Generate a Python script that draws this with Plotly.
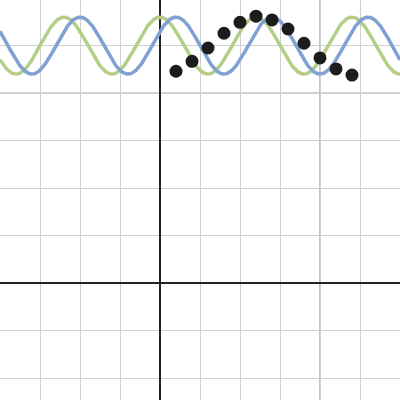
import numpy as np
import plotly.graph_objects as go

pts_x = [0.4, 0.8, 1.2, 1.6, 2.0, 2.4, 2.8, 3.2, 3.6, 4.0, 4.4, 4.8]
pts_y = [4.46, 4.67, 4.95, 5.26, 5.49, 5.62, 5.54, 5.35, 5.05, 4.74, 4.51, 4.38]

# curve parameters: center, amplitude, period, phase shift
center, amp, period = 5.0, 0.6, 2.4
green_shift, blue_shift = 0.0, 0.4

xs = np.linspace(-4, 6, 800)
green = center + amp * np.cos(2 * np.pi * (xs - green_shift) / period)
blue = center + amp * np.cos(2 * np.pi * (xs - blue_shift) / period)

fig = go.Figure()
fig.add_trace(go.Scatter(x=xs, y=green, mode="lines", line=dict(color="#b4cd88", width=3.5)))
fig.add_trace(go.Scatter(x=xs, y=blue, mode="lines", line=dict(color="#7fa2d2", width=3.5)))
fig.add_trace(go.Scatter(x=pts_x, y=pts_y, mode="markers", marker=dict(color="#1c1c1c", size=13)))

for v in [4]:
    fig.add_shape(type="line", x0=v, x1=v, y0=0, y1=1, yref="paper", line=dict(color="#8a8a8a", width=1), layer="below")
    fig.add_shape(type="line", y0=v, y1=v, x0=0, x1=1, xref="paper", line=dict(color="#8a8a8a", width=1), layer="below")

fig.update_layout(
    width=400, height=400, margin=dict(l=0, r=0, t=0, b=0),
    paper_bgcolor="white", plot_bgcolor="white", showlegend=False,
    xaxis=dict(range=[-4, 6], dtick=1, showticklabels=False, gridcolor="#d0d0d0",
               zeroline=True, zerolinecolor="#222", zerolinewidth=1.5, fixedrange=True),
    yaxis=dict(range=[-2.46, 5.96], dtick=1, showticklabels=False, gridcolor="#d0d0d0",
               zeroline=True, zerolinecolor="#222", zerolinewidth=1.5, fixedrange=True),
)
fig.write_html("out.html", config={"displayModeBar": False},
               post_script="document.body.style.margin='0';document.body.style.overflow='hidden';")
